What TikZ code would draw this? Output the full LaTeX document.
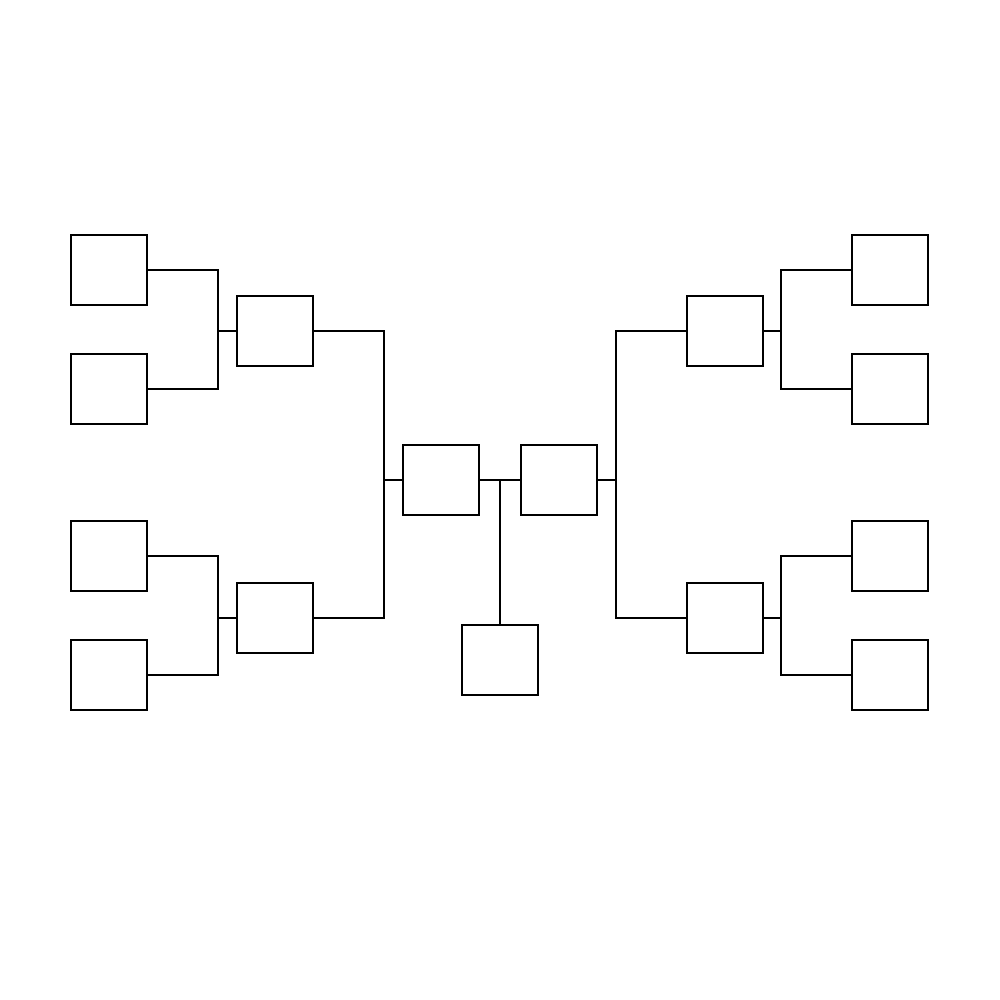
\documentclass[tikz,border=0pt]{standalone}
\usetikzlibrary{calc}

\begin{document}
\begin{tikzpicture}[scale=1,
		slot/.style={draw, line width=0.45pt, minimum width=0.76cm, minimum height=0.70cm, inner sep=0pt},
		link/.style={line width=0.45pt}]
			\useasboundingbox (0,0) rectangle (10,10);
			\def\armL{0.70}
			\def\stub{0.20}
			
			% Left side
			\node[slot] (l1) at (1.09,7.30) {};
			\node[slot] (l2) at (1.09,6.11) {};
			\node[slot] (l3) at (1.09,4.44) {};
			\node[slot] (l4) at (1.09,3.25) {};
			\node[slot] (lq1) at (2.75,6.69) {};
			\node[slot] (lq2) at (2.75,3.82) {};
			\node[slot] (ls) at (4.41,5.20) {};
			
			% Right side
			\node[slot] (r1) at (8.90,7.30) {};
			\node[slot] (r2) at (8.90,6.11) {};
			\node[slot] (r3) at (8.90,4.44) {};
			\node[slot] (r4) at (8.90,3.25) {};
			\node[slot] (rq1) at (7.25,6.69) {};
			\node[slot] (rq2) at (7.25,3.82) {};
			\node[slot] (rs) at (5.59,5.20) {};
			
			% Winner
			\node[slot] (win) at (5.00,3.40) {};
			
			% Left brackets
			\draw[link] (l1.east) -- ++(\armL,0) coordinate (lb1) |- (l2.east);
			\draw[link] (lq1.west) -- (lq1.west -| lb1);
			\draw[link] (l3.east) -- ++(\armL,0) coordinate (lb2) |- (l4.east);
			\draw[link] (lq2.west) -- (lq2.west -| lb2);
			\draw[link] (lq1.east) -- ++(\armL,0) coordinate (lb3) |- (lq2.east);
			\draw[link] (ls.west) -- (ls.west -| lb3);
			
			% Right brackets
			\draw[link] (r1.west) -- ++(-\armL,0) coordinate (rb1) |- (r2.west);
			\draw[link] (rq1.east) -- (rq1.east -| rb1);
			\draw[link] (r3.west) -- ++(-\armL,0) coordinate (rb2) |- (r4.west);
			\draw[link] (rq2.east) -- (rq2.east -| rb2);
			\draw[link] (rq1.west) -- ++(-\armL,0) coordinate (rb3) |- (rq2.west);
			\draw[link] (rs.east) -- (rs.east -| rb3);
			
			% Final
			\draw[link] (ls.east) -- (rs.west);
			\draw[link] (ls.east -| win.north) -- (win.north);
		\end{tikzpicture}
\end{document}
